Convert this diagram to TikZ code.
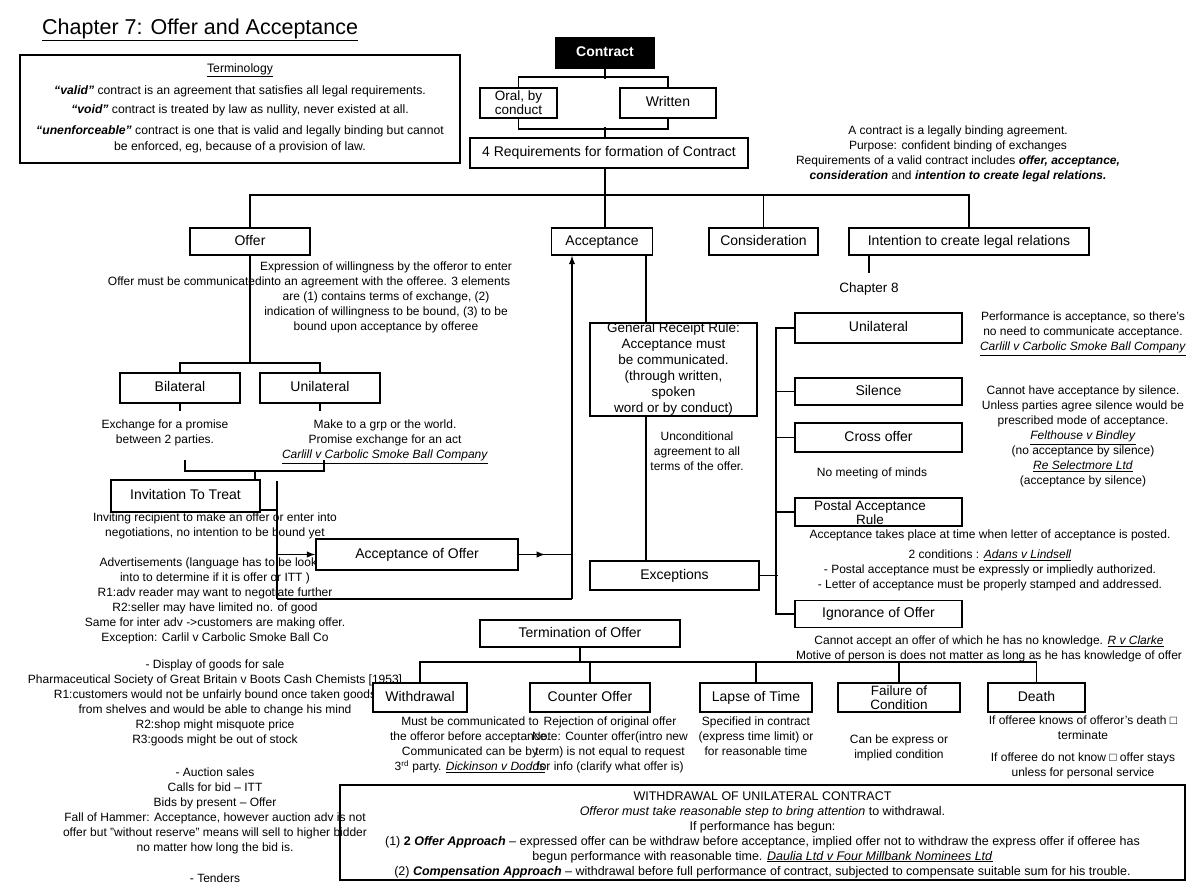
\documentclass[tikz,border=0pt]{standalone}
\usepackage{fontspec}
\setmainfont{Liberation Sans}
\begin{document}
\begin{tikzpicture}[x=1pt,y=-1pt,
    box/.style={draw,line width=1.8pt,fill=white,inner sep=0pt,text height=10pt,text depth=3pt,font=\fontsize{14}{15}\selectfont},
    lbl/.style={align=center,inner sep=0pt,font=\fontsize{13.5}{14}\selectfont},
    note/.style={align=center,inner sep=0pt,font=\fontsize{12}{15}\selectfont},
    link/.style={line width=1.8pt}]
    \useasboundingbox (0,0) rectangle (1200,886);

    % Title and terminology
    \node[inner sep=0pt,anchor=west,font=\fontsize{21.5}{24}\selectfont] (title) at (42,30) {\underline{Chapter 7: Offer and Acceptance}};
    \node[draw,line width=1.8pt,minimum width=440,minimum height=108] (termbox) at (240,109) {};
    \node[anchor=north,align=center,inner sep=0pt,font=\fontsize{12.2}{16}\selectfont] (termtext) at (240,63) {\underline{Terminology}\\[6pt]
        \textbf{\textit{“valid”}} contract is an agreement that satisfies all legal requirements.\\[3pt]
        \textbf{\textit{“void”}} contract is treated by law as nullity, never existed at all.\\[5pt]
        \textbf{\textit{“unenforceable”}} contract is one that is valid and legally binding but cannot\\
        be enforced, eg, because of a provision of law.};

    % Nodes for the contract part
    \node[box,fill=black,text=white,font=\bfseries\fontsize{14}{15}\selectfont,minimum width=98,minimum height=30] (contract) at (605,53) {Contract};
    \node[box,minimum width=77,minimum height=30] (oral) at (518.5,103) {};
    \node[lbl] (oraltext) at (oral.center) {Oral, by\\conduct};
    \node[box,minimum width=96,minimum height=30] (written) at (668,103) {Written};
    \node[box,minimum width=278,minimum height=30] (req) at (609,153) {4 Requirements for formation of Contract};
    \node[note,anchor=north] (defn) at (958,126) {A contract is a legally binding agreement.\\
        Purpose: confident binding of exchanges\\
        Requirements of a valid contract includes \textbf{\textit{offer, acceptance,}}\\
        \textbf{\textit{consideration}} and \textbf{\textit{intention to create legal relations.}}};

    % Nodes for the four requirements
    \node[box,minimum width=120,minimum height=27] (offer) at (250,241.5) {Offer};
    \node[box,minimum width=101,minimum height=27] (acc) at (602,241.5) {Acceptance};
    \node[box,minimum width=109,minimum height=27] (cons) at (763.5,241.5) {Consideration};
    \node[box,minimum width=240,minimum height=27] (intent) at (969,241.5) {Intention to create legal relations};
    \node[font=\fontsize{13.5}{15}\selectfont,inner sep=0pt] (ch8) at (869,289) {Chapter 8};

    % Nodes for the offer part
    \node[note,anchor=east] (offcomm) at (262,281) {Offer must be communicated};
    \node[note,anchor=north] (offdef) at (386,262) {Expression of willingness by the offeror to enter\\
        into an agreement with the offeree. 3 elements\\
        are (1) contains terms of exchange, (2)\\
        indication of willingness to be bound, (3) to be\\
        bound upon acceptance by offeree};
    \node[box,minimum width=120,minimum height=30] (bil) at (180,388) {Bilateral};
    \node[box,minimum width=120,minimum height=30] (unil) at (320,388) {Unilateral};
    \node[note,anchor=north] (biltext) at (165,420) {Exchange for a promise\\between 2 parties.};
    \node[note,anchor=north] (unitext) at (385,420) {Make to a grp or the world.\\
        Promise exchange for an act\\
        \underline{\textit{Carlill v Carbolic Smoke Ball Company}}};
    \node[note,anchor=north] (itttext) at (215,513) {Inviting recipient to make an offer or enter into\\
        negotiations, no intention to be bound yet\\[15pt]
        Advertisements (language has to be looked\\
        into to determine if it is offer or ITT )\\
        R1:adv reader may want to negotiate further\\
        R2:seller may have limited no. of good\\
        Same for inter adv ->customers are making offer.\\
        Exception: Carlil v Carbolic Smoke Ball Co};
    \node[box,minimum width=149,minimum height=32] (itt) at (185.5,496) {Invitation To Treat};
    \node[box,minimum width=202,minimum height=31] (aoo) at (417,554.5) {Acceptance of Offer};
    \node[note,anchor=north] (goods) at (215,660) {- Display of goods for sale\\
        Pharmaceutical Society of Great Britain v Boots Cash Chemists [1953]\\
        R1:customers would not be unfairly bound once taken goods\\
        from shelves and would be able to change his mind\\
        R2:shop might misquote price\\
        R3:goods might be out of stock\\[18pt]
        - Auction sales\\
        Calls for bid – ITT\\
        Bids by present – Offer\\
        Fall of Hammer: Acceptance, however auction adv is not\\
        offer but "without reserve" means will sell to higher bidder\\
        no matter how long the bid is.\\[16pt]
        - Tenders};

    % Nodes for the acceptance part
    \node[box,minimum width=167,minimum height=93] (grr) at (673.5,369.5) {};
    \node[lbl,font=\fontsize{13.5}{16}\selectfont] (grrtext) at (grr.center) {General Receipt Rule:\\Acceptance must\\be communicated.\\(through written,\\spoken\\word or by conduct)};
    \node[note,anchor=north] (uncond) at (697,432) {Unconditional\\agreement to all\\terms of the offer.};
    \node[box,minimum width=169,minimum height=29] (exc) at (674.5,575.5) {Exceptions};
    \node[box,minimum width=167,minimum height=30] (runi) at (878.5,328) {Unilateral};
    \node[box,minimum width=167,minimum height=27] (sil) at (878.5,391.5) {Silence};
    \node[box,minimum width=167,minimum height=29] (cross) at (878.5,437.5) {Cross offer};
    \node[box,minimum width=167,minimum height=28] (postal) at (878.5,512) {};
    \node[lbl] (postaltext) at (870,513) {Postal Acceptance\\Rule};
    \node[box,minimum width=167,minimum height=27] (ign) at (878.5,614) {Ignorance of Offer};
    \node[note] (nomeet) at (872,473) {No meeting of minds};
    \node[note,anchor=north] (runitext) at (1083,312) {Performance is acceptance, so there's\\
        no need to communicate acceptance.\\
        \underline{\textit{Carlill v Carbolic Smoke Ball Company}}};
    \node[note,anchor=north] (siltext) at (1083,386) {Cannot have acceptance by silence.\\
        Unless parties agree silence would be\\
        prescribed mode of acceptance.\\
        \underline{\textit{Felthouse v Bindley}}\\
        (no acceptance by silence)\\
        \underline{\textit{Re Selectmore Ltd}}\\
        (acceptance by silence)};
    \node[note,anchor=north] (postnote) at (990,530) {Acceptance takes place at time when letter of acceptance is posted.\\[5pt]
        2 conditions : \underline{\textit{Adans v Lindsell}}\\
        - Postal acceptance must be expressly or impliedly authorized.\\
        - Letter of acceptance must be properly stamped and addressed.};
    \node[note,anchor=north] (ignnote) at (989,636) {Cannot accept an offer of which he has no knowledge. \underline{\textit{R v Clarke}}\\
        Motive of person is does not matter as long as he has knowledge of offer};

    % Nodes for the termination part
    \node[box,minimum width=200,minimum height=27] (term) at (580,633.5) {Termination of Offer};
    \node[box,minimum width=94,minimum height=29] (wd) at (420,697.5) {Withdrawal};
    \node[box,minimum width=120,minimum height=29] (co) at (590,697.5) {Counter Offer};
    \node[box,minimum width=112,minimum height=29] (lapse) at (756,697.5) {Lapse of Time};
    \node[box,minimum width=122,minimum height=29] (fail) at (899,697.5) {};
    \node[lbl] (failtext) at (fail.center) {Failure of\\Condition};
    \node[box,minimum width=97,minimum height=29] (death) at (1036.5,697.5) {Death};
    \node[note,anchor=north] (wdtext) at (470,717) {Must be communicated to\\
        the offeror before acceptance.\\
        Communicated can be by\\
        3\textsuperscript{rd} party. \underline{\textit{Dickinson v Dodds}}};
    \node[note,anchor=north] (cotext) at (610,717) {Rejection of original offer\\
        Note: Counter offer(intro new\\
        term) is not equal to request\\
        for info (clarify what offer is)};
    \node[note,anchor=north] (lapsetext) at (756,717) {Specified in contract\\(express time limit) or\\for reasonable time};
    \node[note,anchor=north] (failnote) at (899,735) {Can be express or\\implied condition};
    \node[note,anchor=north] (deathtext) at (1083,716) {If offeree knows of offeror's death □\\
        terminate\\[7pt]
        If offeree do not know □ offer stays\\
        unless for personal service};
    \node[draw,line width=1.8pt,minimum width=845,minimum height=95] (wuc) at (762.5,832.5) {};
    \node[align=center,inner sep=0pt,font=\fontsize{12.5}{15}\selectfont] (wuctext) at (762.5,834.5) {WITHDRAWAL OF UNILATERAL CONTRACT\\
        \textit{Offeror must take reasonable step to bring attention} to withdrawal.\\
        If performance has begun:\\
        (1) \textbf{2 \textit{Offer Approach}} – expressed offer can be withdraw before acceptance, implied offer not to withdraw the express offer if offeree has\\
        begun performance with reasonable time. \underline{\textit{Daulia Ltd v Four Millbank Nominees Ltd}}\\
        (2) \textbf{\textit{Compensation Approach}} – withdrawal before full performance of contract, subjected to compensate suitable sum for his trouble.};

    % Free ends of the connectors
    \coordinate (bus) at (605,195);
    \coordinate (obr) at (250,363);
    \coordinate (bilend) at (185,460);
    \coordinate (uniend) at (324,460);
    \coordinate (ittj) at (255,471);
    \coordinate (vtop) at (277,481);
    \coordinate (vbot) at (277,599);
    \coordinate (accj) at (572,554.5);
    \coordinate (tbus) at (580,662);

    % Edges for the contract part
    \draw[link] (contract.south) -- ++(0,10);
    \draw[link] (oral.north) -- ++(0,-10) -| (written.north);
    \draw[link] (oral.south) -- ++(0,10) -| (written.south);
    \draw[link] (contract.south |- req.north) -- ++(0,-10);
    \draw[link] (bus |- req.south) -- (bus);
    \draw[link] (offer.north) -- (offer.north |- bus) -- (intent.north |- bus) -- (intent.north);
    \draw[link] (bus) -- (bus |- acc.north);
    \draw[link] (cons.north) -- (cons.north |- bus);
    \draw[link] (ch8.north |- intent.south) -- ++(0,17);

    % Edges for the offer part
    \draw[link] (offer.south) -- (obr);
    \draw[link] (bil.north) |- (obr) -| (unil.north);
    \draw[link] (bil.south) -- ++(0,7);
    \draw[link] (unil.south) -- ++(0,7);
    \draw[link] (bilend) -- (bilend |- ittj) -- (uniend |- ittj) -- (uniend);
    \draw[link] (ittj) -- (ittj |- itt.north);
    \draw[link] ([yshift=3pt]itt.south east) -| (vtop);
    \draw[link] (vtop) -- (vbot);
    \draw[link,-latex] (aoo.west -| vtop) -- (aoo.west);
    \draw[link] (aoo.east) -- (accj);
    \draw[link,-latex] (aoo.east) -- +(26,0);
    \draw[link] (vbot) -- (vbot -| accj);
    \draw[link,-latex] (vbot -| accj) -- (acc.south -| accj);

    % Edges for the acceptance part
    \draw[link] ([xshift=-27.5pt]grr.north) -- ([xshift=-27.5pt]grr.north |- acc.south);
    \draw[link] ([xshift=-27.5pt]grr.south) -- ([xshift=-27.5pt]grr.south |- exc.north);
    \draw[link] (exc.east) -- +(18,0);
    \draw[link] (runi.west) -- ++(-18,0) |- (ign.west);
    \draw[link] (sil.west) -- ++(-18,0);
    \draw[link] (cross.west) -- ++(-18,0);
    \draw[link] (postal.west) -- ++(-18,0);

    % Edges for the termination part
    \draw[link] (term.south) -- (tbus);
    \draw[link] (wd.north) -- (wd.north |- tbus) -- (death.north |- tbus) -- (death.north);
    \draw[link] (co.north) -- (co.north |- tbus);
    \draw[link] (lapse.north) -- (lapse.north |- tbus);
    \draw[link] (fail.north) -- (fail.north |- tbus);
\end{tikzpicture}
\end{document}
